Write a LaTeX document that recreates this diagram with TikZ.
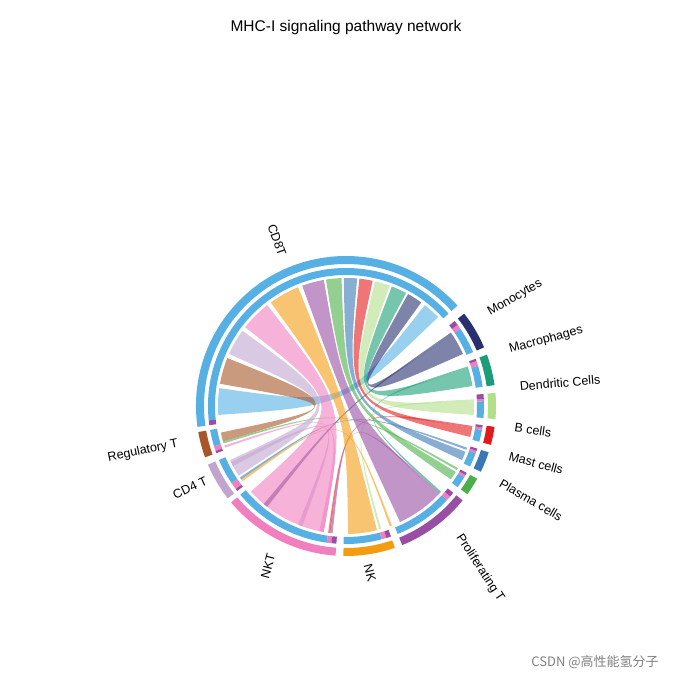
\documentclass[tikz,border=0pt]{standalone}
\usepackage{fontspec}
\setmainfont{Liberation Sans}
\newfontfamily\cjk{Noto Sans CJK SC}
\definecolor{cCD8}{HTML}{56B0E4}
\definecolor{cMono}{HTML}{283070}
\definecolor{cMac}{HTML}{1B9E77}
\definecolor{cDen}{HTML}{B2DF8A}
\definecolor{cB}{HTML}{E31A1C}
\definecolor{cMast}{HTML}{3A78B5}
\definecolor{cPla}{HTML}{4DAF4A}
\definecolor{cPro}{HTML}{984EA3}
\definecolor{cNK}{HTML}{F39C12}
\definecolor{cNKT}{HTML}{F17FC0}
\definecolor{cCD4}{HTML}{C2A5CF}
\definecolor{cReg}{HTML}{A65628}
\newcommand{\sect}[5]{\fill[#5] (#1:#3) arc[start angle=#1,end angle=#2,radius=#3] -- (#2:#4) arc[start angle=#2,end angle=#1,radius=#4] -- cycle;}
\newcommand{\chd}[5]{\fill[#5,fill opacity=0.6] (#1:128pt) arc[start angle=#1,end angle=#2,radius=128pt] .. controls (0,0) and (0,0) .. (#3:128pt) arc[start angle=#3,end angle=#4,radius=128pt] .. controls (0,0) and (0,0) .. (#1:128pt) -- cycle;}
\tikzset{lab/.style={font=\fontsize{12.5}{14}\selectfont,inner sep=0pt}}
\begin{document}
\begin{tikzpicture}[x=1pt,y=1pt]
\useasboundingbox (0,0) rectangle (675,683);
\node[font=\fontsize{15.5}{17}\selectfont] (title) at (346,656) {MHC-I signaling pathway network};
\node[font=\cjk\fontsize{13}{15}\selectfont,text=gray] (wm) at (595,21) {CSDN @高性能氢分子};
\begin{scope}[shift={(346,277)}]
% outer ring
\sect{42}{188}{142pt}{150pt}{cCD8}
\sect{190}{200}{142pt}{150pt}{cReg}
\sect{203}{218}{142pt}{150pt}{cCD4}
\sect{220}{266}{142pt}{150pt}{cNKT}
\sect{269}{289}{142pt}{150pt}{cNK}
\sect{292}{321}{142pt}{150pt}{cPro}
\sect{324}{331}{142pt}{150pt}{cPla}
\sect{334}{342}{142pt}{150pt}{cMast}
\sect{345}{352}{142pt}{150pt}{cB}
\sect{355}{365}{142pt}{150pt}{cDen}
\sect{368}{380}{142pt}{150pt}{cMac}
\sect{383}{398}{142pt}{150pt}{cMono}
% inner track
\sect{42}{186}{131pt}{138pt}{cCD8}
\sect{186}{188}{131pt}{138pt}{cPro}
\foreach \a/\b in {190/197,203/214,220/262,269/285,292/317,324/329,334/340,345/350,355/362,368/377,383/394}{
  \sect{\a}{\b}{131pt}{138pt}{cCD8}
}
\foreach \a/\b in {197/199,214/217,262/264,285/287,317/319,329/330,340/341,350/351,362/363,377/379,394/396}{
  \sect{\a}{\b}{131pt}{138pt}{cNKT}
}
\foreach \a/\b in {199/200,217/218,264/266,287/289,319/321,330/331,341/342,351/352,363/365,379/380,396/398}{
  \sect{\a}{\b}{131pt}{138pt}{cPro}
}
% thin chords among small sectors
\chd{196}{197}{330}{331}{cPla}
\chd{214}{215}{340}{341}{cMast}
\chd{262}{263}{350}{351}{cB}
\chd{285}{286}{362}{363}{cDen}
\chd{317}{318}{377}{378}{cMac}
\chd{215}{216}{290}{291}{cNK}
\chd{263}{264}{316}{317}{cPro}
\chd{198}{199}{258}{260}{cNKT}
\chd{206}{208}{248}{250}{cCD4}
\chd{230}{232}{394}{395}{cMono}
% main chords from CD8T
\chd{172}{184}{44}{52}{cCD8}
\chd{158}{170}{192}{196}{cReg}
\chd{144}{156}{205}{213}{cCD4}
\chd{128}{142}{222}{260}{cNKT}
\chd{112}{126}{271}{284}{cNK}
\chd{100}{110}{295}{316}{cPro}
\chd{92}{99}{325}{329}{cPla}
\chd{85}{91}{335}{339}{cMast}
\chd{78}{84}{346}{350}{cB}
\chd{70}{77}{356}{362}{cDen}
\chd{62}{69}{369}{377}{cMac}
\chd{54}{61}{384}{394}{cMono}
\end{scope}
% labels
\node[lab,rotate=-70] (l1) at (277,443) {CD8T};
\node[lab,rotate=30] (l2) at (515,385) {Monocytes};
\node[lab,rotate=15] (l3) at (546,343) {Macrophages};
\node[lab,rotate=5] (l4) at (560,300) {Dendritic Cells};
\node[lab,rotate=-8] (l5) at (533,253) {B cells};
\node[lab,rotate=-15] (l6) at (536,220) {Mast cells};
\node[lab,rotate=-30] (l7) at (531,183) {Plasma cells};
\node[lab,rotate=-57] (l8) at (480,115) {Proliferating T};
\node[lab,rotate=-75] (l9) at (370,110) {NK};
\node[lab,rotate=75] (l10) at (268,117) {NKT};
\node[lab,rotate=25] (l11) at (190,195) {CD4 T};
\node[lab,rotate=12] (l12) at (143,232) {Regulatory T};
\end{tikzpicture}
\end{document}
